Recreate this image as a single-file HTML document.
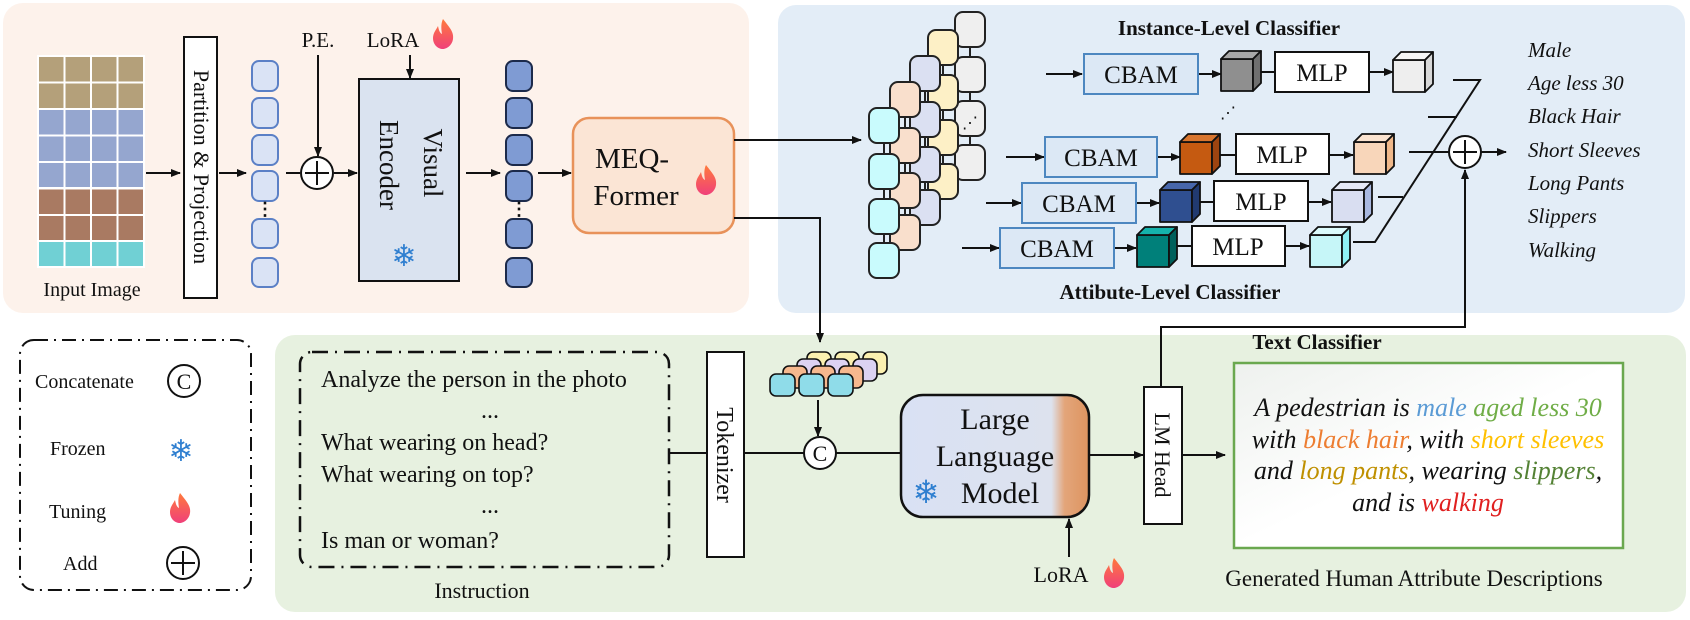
<!DOCTYPE html>
<html><head><meta charset="utf-8"><style>
html,body{margin:0;padding:0;background:#fff}
svg{display:block;font-family:"Liberation Serif",serif}
text,tspan{font-family:"Liberation Serif",serif;fill:#111}
.b{font-weight:bold}
.i{font-style:italic}
.sf{fill:#2f7fd0}
</style></head><body>
<svg width="1690" height="620" viewBox="0 0 1690 620" xmlns="http://www.w3.org/2000/svg" font-family="Liberation Serif, serif">
<defs>
<marker id="ar" markerWidth="10" markerHeight="10" refX="9" refY="5" orient="auto" markerUnits="userSpaceOnUse"><path d="M0,1 L10,5 L0,9 z" fill="#111"/></marker>
<linearGradient id="fl" x1="0" y1="0" x2="0" y2="1"><stop offset="0" stop-color="#ff7a3c"/><stop offset="1" stop-color="#f0407a"/></linearGradient>
<linearGradient id="llm" x1="0" y1="0" x2="1" y2="0"><stop offset="0" stop-color="#d9e1f4"/><stop offset="0.8" stop-color="#dde2ee"/><stop offset="0.87" stop-color="#e3a57a"/><stop offset="1" stop-color="#dd9460"/></linearGradient>
<linearGradient id="tb" x1="0" y1="0" x2="1" y2="1"><stop offset="0" stop-color="#eef1ee"/><stop offset="0.5" stop-color="#ffffff"/><stop offset="1" stop-color="#ffffff"/></linearGradient>
<g id="flame"><path d="M0,-15 C7,-6 11,-2 10,5 C9,12 3,15 0,15 C-5,15 -10,11 -10,4 C-10,-1 -7,-4 -5,-8 C-4,-3 -3,-1 -1,0 C-2,-6 -2,-11 0,-15 z" fill="url(#fl)"/></g>
</defs>

<rect x="3" y="3" width="746" height="310" rx="20" fill="#fdf2eb"/>
<rect x="778" y="5" width="907" height="308" rx="18" fill="#e3edf7"/>
<rect x="275" y="335" width="1411" height="277" rx="20" fill="#e7f1e0"/>

<g stroke="#ffffff" stroke-width="2">
<rect x="38" y="56" width="106" height="53" fill="#b4a07a"/>
<rect x="38" y="109" width="106" height="79" fill="#95a6cf"/>
<rect x="38" y="188" width="106" height="53" fill="#a97a62"/>
<rect x="38" y="241" width="106" height="26" fill="#70d0d4"/>
<path d="M64.5,56V267M91,56V267M117.5,56V267M38,82.5H144M38,109H144M38,135.5H144M38,162H144M38,188.5H144M38,215H144M38,241H144" fill="none"/>
</g>
<text x="92" y="296" font-size="20" text-anchor="middle">Input Image</text>

<g stroke="#111" stroke-width="2" fill="none">
<line x1="146" y1="173" x2="180" y2="173" marker-end="url(#ar)"/>
<line x1="219" y1="173" x2="246" y2="173" marker-end="url(#ar)"/>
<line x1="286" y1="173" x2="300" y2="173"/>
<line x1="318" y1="55" x2="318" y2="156" marker-end="url(#ar)"/>
<line x1="334" y1="173" x2="357" y2="173" marker-end="url(#ar)"/>
<line x1="410" y1="55" x2="410" y2="78" marker-end="url(#ar)"/>
<line x1="466" y1="173" x2="500" y2="173" marker-end="url(#ar)"/>
<line x1="538" y1="173" x2="571" y2="173" marker-end="url(#ar)"/>
</g>
<rect x="184" y="37" width="33" height="261" fill="#fff" stroke="#111" stroke-width="2"/>
<text transform="translate(194,167) rotate(90)" font-size="22" text-anchor="middle">Partition &amp; Projection</text>

<g fill="#dae3f5" stroke="#5b80c6" stroke-width="2">
<rect x="252" y="61" width="26" height="30" rx="7"/><rect x="252" y="98" width="26" height="30" rx="7"/>
<rect x="252" y="135" width="26" height="30" rx="7"/><rect x="252" y="171" width="26" height="30" rx="7"/>
<rect x="252" y="219" width="26" height="29" rx="7"/><rect x="252" y="258" width="26" height="29" rx="7"/>
</g>
<text x="265" y="215" font-size="18" text-anchor="middle" class="b">⋮</text>

<circle cx="317" cy="173" r="16" fill="#fff" stroke="#111" stroke-width="2"/>
<path d="M317,161V185M305,173H329" stroke="#111" stroke-width="2"/>
<text x="318" y="47" font-size="21" text-anchor="middle">P.E.</text>
<text x="393" y="47" font-size="21" text-anchor="middle">LoRA</text>
<use href="#flame" x="443" y="34"/>

<rect x="359" y="79" width="100" height="202" fill="#dae3f0" stroke="#111" stroke-width="2"/>
<text transform="translate(424,163) rotate(90)" font-size="27" text-anchor="middle">Visual</text>
<text transform="translate(380,165) rotate(90)" font-size="27" text-anchor="middle">Encoder</text>
<text x="404" y="266" font-size="30" text-anchor="middle" class="sf">❄</text>

<g fill="#7f9bd3" stroke="#1c2a4a" stroke-width="2">
<rect x="506" y="61" width="26" height="30" rx="7"/><rect x="506" y="98" width="26" height="30" rx="7"/>
<rect x="506" y="135" width="26" height="30" rx="7"/><rect x="506" y="171" width="26" height="30" rx="7"/>
<rect x="506" y="219" width="26" height="29" rx="7"/><rect x="506" y="258" width="26" height="29" rx="7"/>
</g>
<text x="519" y="215" font-size="18" text-anchor="middle" class="b">⋮</text>

<rect x="573" y="118" width="161" height="115" rx="16" fill="#fbe5d5" stroke="#e8925a" stroke-width="2.5"/>
<text x="632" y="168" font-size="29" text-anchor="middle">MEQ-</text>
<text x="636" y="205" font-size="29" text-anchor="middle">Former</text>
<use href="#flame" x="706" y="180"/>

<g stroke="#111" stroke-width="2" fill="none">
<line x1="734" y1="140" x2="861" y2="140" marker-end="url(#ar)"/>
<polyline points="734,218 820,218 820,342" marker-end="url(#ar)"/>
</g>

<g stroke="#222" stroke-width="2">
<path d="M970,47V57M970,92V101M970,136V145M943,65V75M943,110V120M943,155V164M925,91V102M925,137V147M925,182V190M905,117V128M905,163V173M905,208V215M884,143V154M884,190V199M884,235V243" fill="none"/>
<g fill="#efefef"><rect x="955" y="12" width="30" height="35" rx="8"/><rect x="955" y="57" width="30" height="35" rx="8"/><rect x="955" y="101" width="30" height="35" rx="8"/><rect x="955" y="145" width="30" height="35" rx="8"/></g>
<g fill="#fdf0c6"><rect x="928" y="30" width="30" height="35" rx="8"/><rect x="928" y="75" width="30" height="35" rx="8"/><rect x="928" y="120" width="30" height="35" rx="8"/><rect x="928" y="164" width="30" height="35" rx="8"/></g>
<g fill="#dbe0f2"><rect x="910" y="56" width="30" height="35" rx="8"/><rect x="910" y="102" width="30" height="35" rx="8"/><rect x="910" y="147" width="30" height="35" rx="8"/><rect x="910" y="190" width="30" height="35" rx="8"/></g>
<g fill="#f9dfcc"><rect x="890" y="82" width="30" height="35" rx="8"/><rect x="890" y="128" width="30" height="35" rx="8"/><rect x="890" y="173" width="30" height="35" rx="8"/><rect x="890" y="215" width="30" height="35" rx="8"/></g>
<g fill="#c9fbfd"><rect x="869" y="108" width="30" height="35" rx="8"/><rect x="869" y="154" width="30" height="35" rx="8"/><rect x="869" y="199" width="30" height="35" rx="8"/><rect x="869" y="243" width="30" height="35" rx="8"/></g>
</g>
<text x="962" y="128" font-size="16">⋰</text>

<text x="1229" y="35" font-size="21" class="b" text-anchor="middle">Instance-Level Classifier</text>
<text x="1170" y="299" font-size="21" class="b" text-anchor="middle">Attibute-Level Classifier</text>

<g stroke="#111" stroke-width="2" fill="none">
<line x1="1046" y1="74" x2="1082" y2="74" marker-end="url(#ar)"/>
<line x1="1198" y1="74" x2="1221" y2="74" marker-end="url(#ar)"/>
<line x1="1261" y1="72" x2="1275" y2="72"/>
<line x1="1369" y1="72" x2="1393" y2="72" marker-end="url(#ar)"/>
<line x1="1006" y1="157" x2="1044" y2="157" marker-end="url(#ar)"/>
<line x1="1157" y1="157" x2="1180" y2="157" marker-end="url(#ar)"/>
<line x1="1220" y1="155" x2="1236" y2="155"/>
<line x1="1329" y1="155" x2="1353" y2="155" marker-end="url(#ar)"/>
<line x1="986" y1="203" x2="1021" y2="203" marker-end="url(#ar)"/>
<line x1="1136" y1="203" x2="1159" y2="203" marker-end="url(#ar)"/>
<line x1="1199" y1="202" x2="1214" y2="202"/>
<line x1="1308" y1="202" x2="1331" y2="202" marker-end="url(#ar)"/>
<line x1="962" y1="248" x2="999" y2="248" marker-end="url(#ar)"/>
<line x1="1114" y1="248" x2="1136" y2="248" marker-end="url(#ar)"/>
<line x1="1177" y1="246" x2="1192" y2="246"/>
<line x1="1285" y1="246" x2="1309" y2="246" marker-end="url(#ar)"/>
<polyline points="1453,80 1480,80 1375,242 1353,242"/>
<line x1="1428" y1="117" x2="1457" y2="117"/>
<line x1="1409" y1="152" x2="1449" y2="152"/>
<line x1="1378" y1="197" x2="1403" y2="197"/>
<line x1="1481" y1="152" x2="1506" y2="152" marker-end="url(#ar)"/>
</g>
<text x="1220" y="118" font-size="16">⋰</text>

<g stroke="#4d87c0" stroke-width="2" fill="#dce8f5">
<rect x="1084" y="54" width="114" height="40"/>
<rect x="1045" y="137" width="112" height="40"/>
<rect x="1022" y="183" width="114" height="40"/>
<rect x="1000" y="228" width="114" height="40"/>
</g>
<g font-size="25" text-anchor="middle">
<text x="1141" y="83">CBAM</text><text x="1101" y="166">CBAM</text><text x="1079" y="212">CBAM</text><text x="1057" y="257">CBAM</text>
</g>
<g stroke="#111" stroke-width="2" fill="#fff">
<rect x="1275" y="52" width="94" height="40"/>
<rect x="1236" y="134" width="93" height="40"/>
<rect x="1214" y="181" width="94" height="40"/>
<rect x="1192" y="226" width="93" height="40"/>
</g>
<g font-size="25" text-anchor="middle">
<text x="1322" y="81">MLP</text><text x="1282" y="163">MLP</text><text x="1261" y="210">MLP</text><text x="1238" y="255">MLP</text>
</g>

<g stroke="#111" stroke-width="1.8" stroke-linejoin="round">
<g fill="#8f8f8f"><rect x="1221" y="59" width="32" height="32"/><path d="M1221,59 L1229,51 L1261,51 L1253,59 z" fill="#a8a8a8"/><path d="M1253,59 L1261,51 L1261,83 L1253,91 z" fill="#6f6f6f"/></g>
<g fill="#eeeeee"><rect x="1393" y="60" width="32" height="32"/><path d="M1393,60 L1401,52 L1433,52 L1425,60 z" fill="#f6f6f6"/><path d="M1425,60 L1433,52 L1433,84 L1425,92 z" fill="#d8d8d8"/></g>
<g fill="#c55a11"><rect x="1180" y="142" width="32" height="32"/><path d="M1180,142 L1188,134 L1220,134 L1212,142 z" fill="#d9762f"/><path d="M1212,142 L1220,134 L1220,166 L1212,174 z" fill="#9d4410"/></g>
<g fill="#f8d6ba"><rect x="1354" y="142" width="32" height="32"/><path d="M1354,142 L1362,134 L1394,134 L1386,142 z" fill="#fbe3cf"/><path d="M1386,142 L1394,134 L1394,166 L1386,174 z" fill="#f0b88a"/></g>
<g fill="#2f4f90"><rect x="1160" y="190" width="32" height="32"/><path d="M1160,190 L1168,182 L1200,182 L1192,190 z" fill="#4766aa"/><path d="M1192,190 L1200,182 L1200,214 L1192,222 z" fill="#213a70"/></g>
<g fill="#d9def1"><rect x="1332" y="190" width="32" height="32"/><path d="M1332,190 L1340,182 L1372,182 L1364,190 z" fill="#e6e9f6"/><path d="M1364,190 L1372,182 L1372,214 L1364,222 z" fill="#a9b8e0"/></g>
<g fill="#00807a"><rect x="1137" y="235" width="32" height="32"/><path d="M1137,235 L1145,227 L1177,227 L1169,235 z" fill="#15b3ac"/><path d="M1169,235 L1177,227 L1177,259 L1169,267 z" fill="#00605b"/></g>
<g fill="#c6f6f8"><rect x="1310" y="235" width="32" height="32"/><path d="M1310,235 L1318,227 L1350,227 L1342,235 z" fill="#dcfbfc"/><path d="M1342,235 L1350,227 L1350,259 L1342,267 z" fill="#8ef0f3"/></g>
</g>

<circle cx="1465" cy="152" r="16" fill="#fff" stroke="#111" stroke-width="2"/>
<path d="M1465,140V164M1453,152H1477" stroke="#111" stroke-width="2"/>

<g font-size="21" class="i">
<text x="1528" y="57">Male</text><text x="1528" y="90">Age less 30</text><text x="1528" y="123">Black Hair</text>
<text x="1528" y="157">Short Sleeves</text><text x="1528" y="190">Long Pants</text><text x="1528" y="223">Slippers</text><text x="1528" y="257">Walking</text>
</g>

<rect x="20" y="340" width="231" height="250" rx="14" fill="#fff" stroke="#111" stroke-width="2" stroke-dasharray="14,6,2,6"/>
<text x="35" y="388" font-size="20">Concatenate</text>
<circle cx="184" cy="381" r="16" fill="#fff" stroke="#111" stroke-width="2"/><text x="184" y="389" font-size="22" text-anchor="middle">C</text>
<text x="50" y="455" font-size="20">Frozen</text>
<text x="181" y="461" font-size="30" text-anchor="middle" class="sf">❄</text>
<text x="49" y="518" font-size="20">Tuning</text>
<use href="#flame" x="180" y="508"/>
<text x="63" y="570" font-size="20">Add</text>
<circle cx="183" cy="563" r="16" fill="#fff" stroke="#111" stroke-width="2"/><path d="M183,551V575M171,563H195" stroke="#111" stroke-width="2"/>

<rect x="300" y="352" width="369" height="215" rx="12" fill="none" stroke="#111" stroke-width="2.5" stroke-dasharray="16,7,2,7"/>
<g font-size="24">
<text x="321" y="387">Analyze the person in the photo</text>
<text x="490" y="418" text-anchor="middle">...</text>
<text x="321" y="450">What wearing on head?</text>
<text x="321" y="482">What wearing on top?</text>
<text x="490" y="513" text-anchor="middle">...</text>
<text x="321" y="548">Is man or woman?</text>
</g>
<text x="482" y="598" font-size="22" text-anchor="middle">Instruction</text>

<g stroke="#111" stroke-width="2" fill="none">
<line x1="669" y1="453" x2="707" y2="453"/>
<line x1="744" y1="453" x2="804" y2="453"/>
<line x1="836" y1="453" x2="901" y2="453"/>
<line x1="818" y1="400" x2="818" y2="436" marker-end="url(#ar)"/>
<line x1="1089" y1="455" x2="1143" y2="455" marker-end="url(#ar)"/>
<line x1="1069" y1="557" x2="1069" y2="519" marker-end="url(#ar)"/>
<polyline points="1161,387 1161,327 1465,327 1465,170" marker-end="url(#ar)"/>
<line x1="1182" y1="455" x2="1225" y2="455" marker-end="url(#ar)"/>
</g>
<rect x="707" y="352" width="37" height="205" fill="#fff" stroke="#111" stroke-width="2"/>
<text transform="translate(717,455) rotate(90)" font-size="24" text-anchor="middle">Tokenizer</text>

<g stroke="#111" stroke-width="1.6">
<g fill="#fbf0b0"><rect x="807" y="352" width="24" height="22" rx="6"/><rect x="835" y="352" width="24" height="22" rx="6"/><rect x="863" y="352" width="24" height="22" rx="6"/></g>
<g fill="#dcd2f2"><rect x="797" y="359" width="24" height="22" rx="6"/><rect x="825" y="359" width="24" height="22" rx="6"/><rect x="853" y="359" width="24" height="22" rx="6"/></g>
<g fill="#f6b88e"><rect x="783" y="366" width="24" height="22" rx="6"/><rect x="811" y="366" width="24" height="22" rx="6"/><rect x="839" y="366" width="24" height="22" rx="6"/></g>
<g fill="#8fdce9"><rect x="770" y="374" width="25" height="22" rx="6"/><rect x="799" y="374" width="25" height="22" rx="6"/><rect x="828" y="374" width="25" height="22" rx="6"/></g>
</g>

<circle cx="820" cy="453" r="16" fill="#fff" stroke="#111" stroke-width="2"/>
<text x="820" y="461" font-size="22" text-anchor="middle">C</text>

<rect x="901" y="395" width="188" height="122" rx="22" fill="url(#llm)" stroke="#111" stroke-width="2.5"/>
<g font-size="30" text-anchor="middle">
<text x="995" y="429">Large</text><text x="995" y="466">Language</text><text x="1000" y="503">Model</text>
</g>
<text x="926" y="503" font-size="32" text-anchor="middle" class="sf">❄</text>
<text x="1061" y="582" font-size="22" text-anchor="middle">LoRA</text>
<use href="#flame" x="1114" y="573"/>

<rect x="1144" y="387" width="38" height="137" fill="#fff" stroke="#111" stroke-width="2"/>
<text transform="translate(1155,455) rotate(90)" font-size="22" text-anchor="middle">LM Head</text>

<text x="1317" y="349" font-size="21" class="b" text-anchor="middle">Text Classifier</text>
<rect x="1234" y="363" width="389" height="185" fill="url(#tb)" stroke="#6aa84f" stroke-width="2.5"/>
<g font-size="26" class="i" text-anchor="middle">
<text x="1428" y="416">A pedestrian is <tspan style="fill:#5b9bd5">male</tspan> <tspan style="fill:#70ad47">aged less 30</tspan></text>
<text x="1428" y="448">with <tspan style="fill:#ed7d31">black hair</tspan>, with <tspan style="fill:#ffc000">short sleeves</tspan></text>
<text x="1428" y="479">and <tspan style="fill:#bf9000">long pants</tspan>, wearing <tspan style="fill:#548235">slippers</tspan>,</text>
<text x="1428" y="511">and is <tspan style="fill:#e02020">walking</tspan></text>
</g>
<text x="1414" y="586" font-size="23" text-anchor="middle">Generated Human Attribute Descriptions</text>
</svg>
</body></html>
